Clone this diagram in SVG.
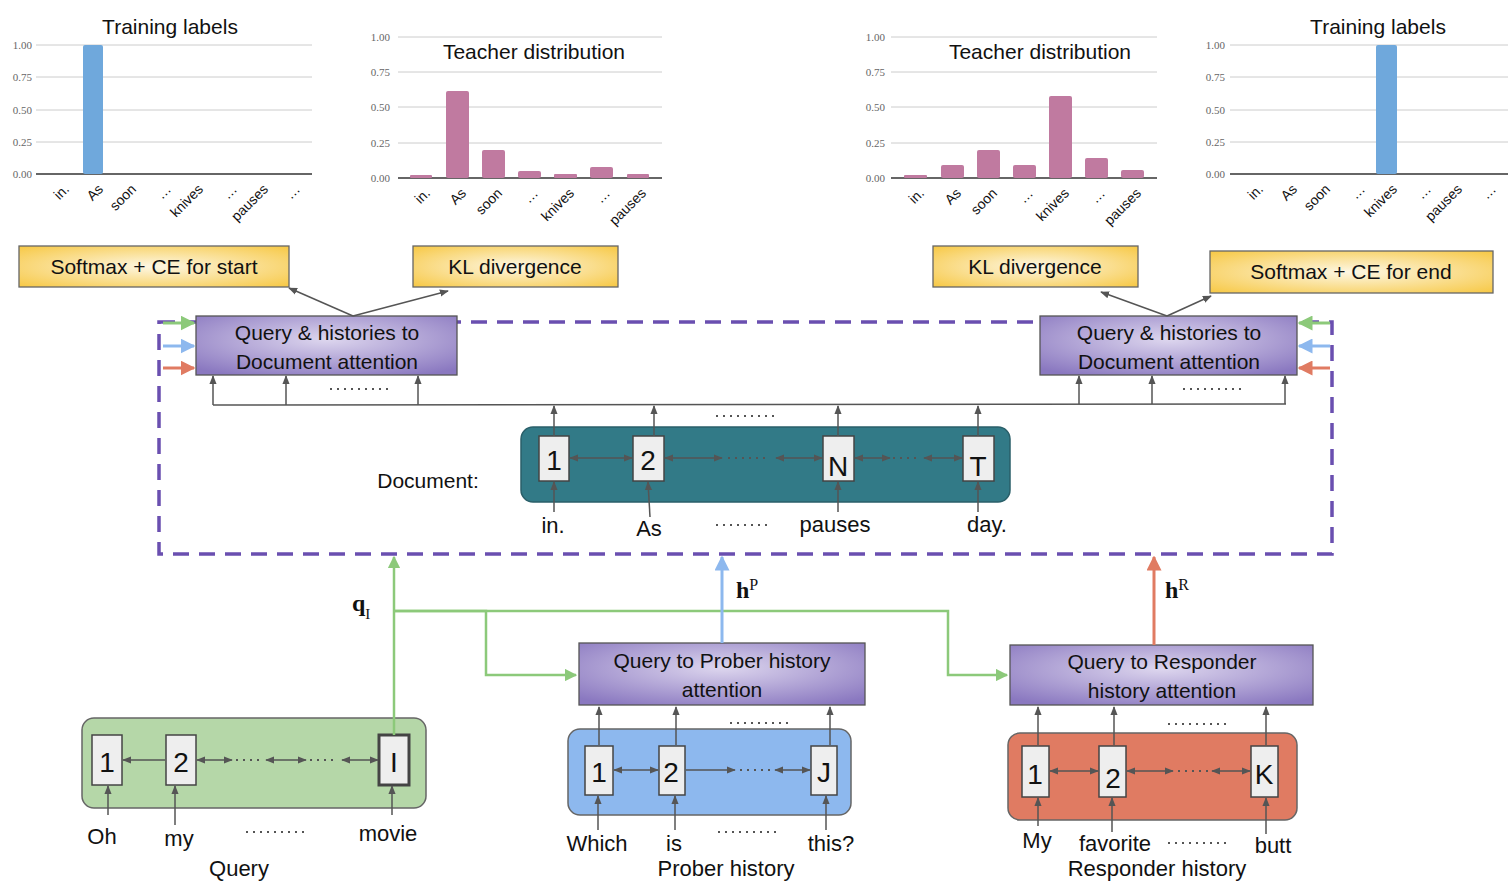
<svg xmlns="http://www.w3.org/2000/svg" width="1512" height="882" viewBox="0 0 1512 882">
<style>
text{font-family:"Liberation Sans",Arial,sans-serif;fill:#111}
.t{font-size:22px}
.m{font-size:21px;text-anchor:middle}
.ax{font-family:"Liberation Serif",serif;font-size:11px;fill:#666;text-anchor:end}
.xl{font-size:14px;fill:#777;text-anchor:end}
.g{stroke:#ccc;stroke-width:1}
.b{stroke:#333;stroke-width:1.3}
.ln{stroke:#555;stroke-width:1.5;fill:none}
.gr{stroke:#8cc97a;stroke-width:2.5;fill:none}
.tok{fill:#eee;stroke:#444;stroke-width:1.5}
.tk{font-size:28px;text-anchor:middle}
.lab{font-size:22px;text-anchor:middle}
.yb{fill:url(#yg);stroke:#666;stroke-width:1.3}
.pb{fill:url(#pg);stroke:#555;stroke-width:1.3}
.dot{stroke:#555;stroke-width:2;stroke-dasharray:2 5}
</style>
<defs>
<radialGradient id="yg" cx="0.5" cy="0.5" r="0.7"><stop offset="0" stop-color="#fdf7e4"/><stop offset="1" stop-color="#f7c844"/></radialGradient>
<radialGradient id="pg" cx="0.5" cy="0.4" r="0.7"><stop offset="0" stop-color="#ddd6ee"/><stop offset="1" stop-color="#8a78c0"/></radialGradient>
<marker id="a" viewBox="0 0 10 10" refX="9" refY="5" markerWidth="6" markerHeight="6" orient="auto-start-reverse"><path d="M0,1 L10,5 L0,9z" fill="#555"/></marker>
<marker id="ag" viewBox="0 0 10 10" refX="9" refY="5" markerWidth="5" markerHeight="5" orient="auto"><path d="M0,0 L10,5 L0,10z" fill="#8cc97a"/></marker>
<marker id="ab" viewBox="0 0 10 10" refX="9" refY="5" markerWidth="5" markerHeight="5" orient="auto"><path d="M0,0 L10,5 L0,10z" fill="#8db8ee"/></marker>
<marker id="ar" viewBox="0 0 10 10" refX="9" refY="5" markerWidth="5" markerHeight="5" orient="auto"><path d="M0,0 L10,5 L0,10z" fill="#e07b62"/></marker>
</defs>

<!-- charts -->
<g id="chart-train-left">
<text x="170" y="34" class="m">Training labels</text>
<g class="g"><line x1="36" y1="45" x2="312" y2="45"/><line x1="36" y1="77" x2="312" y2="77"/><line x1="36" y1="110" x2="312" y2="110"/><line x1="36" y1="142" x2="312" y2="142"/></g>
<line x1="36" y1="174" x2="312" y2="174" class="b"/>
<g><text class="ax" x="32" y="49">1.00</text><text class="ax" x="32" y="81">0.75</text><text class="ax" x="32" y="114">0.50</text><text class="ax" x="32" y="146">0.25</text><text class="ax" x="32" y="178">0.00</text></g>
<rect x="83" y="45" width="20" height="129" rx="2" fill="#6fa8dc"/>
<g class="xl">
<text transform="translate(70,190) rotate(-45)">in.</text><text transform="translate(104,190) rotate(-45)">As</text><text transform="translate(137,190) rotate(-45)">soon</text><text transform="translate(172,190) rotate(-45)">…</text><text transform="translate(204,190) rotate(-45)">knives</text><text transform="translate(238,190) rotate(-45)">…</text><text transform="translate(269,190) rotate(-45)">pauses</text><text transform="translate(301,190) rotate(-45)">…</text>
</g>
</g>

<g id="chart-teacher-left">
<text x="534" y="59" class="m">Teacher distribution</text>
<g class="g"><line x1="398" y1="37" x2="662" y2="37"/><line x1="398" y1="72" x2="662" y2="72"/><line x1="398" y1="107" x2="662" y2="107"/><line x1="398" y1="143" x2="662" y2="143"/></g>
<line x1="398" y1="178" x2="662" y2="178" class="b"/>
<g><text class="ax" x="390" y="41">1.00</text><text class="ax" x="390" y="76">0.75</text><text class="ax" x="390" y="111">0.50</text><text class="ax" x="390" y="147">0.25</text><text class="ax" x="390" y="182">0.00</text></g>
<g fill="#c07aa0">
<rect x="410" y="175" width="22" height="3" rx="1"/><rect x="446" y="91" width="23" height="87" rx="2"/><rect x="482" y="150" width="23" height="28" rx="2"/><rect x="518" y="171" width="23" height="7" rx="2"/><rect x="554" y="174" width="23" height="4" rx="1"/><rect x="590" y="167" width="23" height="11" rx="2"/><rect x="627" y="174" width="22" height="4" rx="1"/>
</g>
<g class="xl">
<text transform="translate(431,194) rotate(-45)">in.</text><text transform="translate(467,194) rotate(-45)">As</text><text transform="translate(503,194) rotate(-45)">soon</text><text transform="translate(539,194) rotate(-45)">…</text><text transform="translate(575,194) rotate(-45)">knives</text><text transform="translate(611,194) rotate(-45)">…</text><text transform="translate(647,194) rotate(-45)">pauses</text>
</g>
</g>

<g id="chart-teacher-right">
<text x="1040" y="59" class="m">Teacher distribution</text>
<g class="g"><line x1="891" y1="37" x2="1157" y2="37"/><line x1="891" y1="72" x2="1157" y2="72"/><line x1="891" y1="107" x2="1157" y2="107"/><line x1="891" y1="143" x2="1157" y2="143"/></g>
<line x1="891" y1="178" x2="1157" y2="178" class="b"/>
<g><text class="ax" x="885" y="41">1.00</text><text class="ax" x="885" y="76">0.75</text><text class="ax" x="885" y="111">0.50</text><text class="ax" x="885" y="147">0.25</text><text class="ax" x="885" y="182">0.00</text></g>
<g fill="#c07aa0">
<rect x="904" y="175" width="23" height="3" rx="1"/><rect x="941" y="165" width="23" height="13" rx="2"/><rect x="977" y="150" width="23" height="28" rx="2"/><rect x="1013" y="165" width="23" height="13" rx="2"/><rect x="1049" y="96" width="23" height="82" rx="2"/><rect x="1085" y="158" width="23" height="20" rx="2"/><rect x="1121" y="170" width="23" height="8" rx="2"/>
</g>
<g class="xl">
<text transform="translate(925,194) rotate(-45)">in.</text><text transform="translate(962,194) rotate(-45)">As</text><text transform="translate(998,194) rotate(-45)">soon</text><text transform="translate(1034,194) rotate(-45)">…</text><text transform="translate(1070,194) rotate(-45)">knives</text><text transform="translate(1106,194) rotate(-45)">…</text><text transform="translate(1142,194) rotate(-45)">pauses</text>
</g>
</g>

<g id="chart-train-right">
<text x="1378" y="34" class="m">Training labels</text>
<g class="g"><line x1="1230" y1="45" x2="1508" y2="45"/><line x1="1230" y1="77" x2="1508" y2="77"/><line x1="1230" y1="110" x2="1508" y2="110"/><line x1="1230" y1="142" x2="1508" y2="142"/></g>
<line x1="1230" y1="174" x2="1508" y2="174" class="b"/>
<g><text class="ax" x="1225" y="49">1.00</text><text class="ax" x="1225" y="81">0.75</text><text class="ax" x="1225" y="114">0.50</text><text class="ax" x="1225" y="146">0.25</text><text class="ax" x="1225" y="178">0.00</text></g>
<rect x="1376" y="45" width="21" height="129" rx="2" fill="#6fa8dc"/>
<g class="xl">
<text transform="translate(1264,190) rotate(-45)">in.</text><text transform="translate(1298,190) rotate(-45)">As</text><text transform="translate(1331,190) rotate(-45)">soon</text><text transform="translate(1366,190) rotate(-45)">…</text><text transform="translate(1398,190) rotate(-45)">knives</text><text transform="translate(1432,190) rotate(-45)">…</text><text transform="translate(1463,190) rotate(-45)">pauses</text><text transform="translate(1497,190) rotate(-45)">…</text>
</g>
</g>

<!-- loss boxes -->
<g id="softmax-start"><rect x="19" y="246" width="270" height="41" class="yb"/><text x="154" y="274" class="m">Softmax + CE for start</text></g>
<g id="kl-left"><rect x="413" y="246" width="205" height="41" class="yb"/><text x="515" y="274" class="m">KL divergence</text></g>
<g id="kl-right"><rect x="933" y="246" width="205" height="41" class="yb"/><text x="1035" y="274" class="m">KL divergence</text></g>
<g id="softmax-end"><rect x="1210" y="251" width="283" height="42" class="yb"/><text x="1351" y="279" class="m">Softmax + CE for end</text></g>

<!-- dashed boundary -->
<rect x="159" y="322" width="1173" height="232" fill="none" stroke="#6a4fb0" stroke-width="3.5" stroke-dasharray="16 10"/>

<g id="att-left"><rect x="196" y="316" width="261" height="59" class="pb"/><text x="327" y="340" class="m">Query &amp; histories to</text><text x="327" y="369" class="m">Document attention</text></g>
<g id="att-right"><rect x="1040" y="316" width="257" height="59" class="pb"/><text x="1169" y="340" class="m">Query &amp; histories to</text><text x="1169" y="369" class="m">Document attention</text></g>

<g id="document">
<text x="428" y="488" class="m">Document:</text>
<rect x="521" y="427" width="489" height="75" rx="12" fill="#327a87" stroke="#2a5f69" stroke-width="1.5"/>
<rect x="539" y="436" width="30" height="45" class="tok"/><text x="554" y="470" class="tk">1</text>
<rect x="633" y="436" width="31" height="45" class="tok"/><text x="648" y="470" class="tk">2</text>
<rect x="823" y="436" width="31" height="45" class="tok"/><text x="838" y="476" class="tk">N</text>
<rect x="963" y="436" width="31" height="45" class="tok"/><text x="978" y="476" class="tk">T</text>
<text x="553" y="533" class="lab">in.</text><text x="649" y="536" class="lab">As</text><text x="835" y="532" class="lab">pauses</text><text x="987" y="532" class="lab">day.</text>
</g>

<g id="query">
<rect x="82" y="718" width="344" height="90" rx="12" fill="#b5d7a8" stroke="#666" stroke-width="1.5"/>
<rect x="92" y="735" width="30" height="50" class="tok"/><text x="107" y="772" class="tk">1</text>
<rect x="166" y="735" width="30" height="50" class="tok"/><text x="181" y="772" class="tk">2</text>
<rect x="379" y="735" width="30" height="50" fill="#eee" stroke="#444" stroke-width="3"/><text x="394" y="772" class="tk">I</text>
<text x="102" y="844" class="lab">Oh</text><text x="179" y="846" class="lab">my</text><text x="388" y="841" class="lab">movie</text><text x="239" y="876" class="lab">Query</text>
</g>

<g id="prober">
<rect x="568" y="729" width="283" height="86" rx="12" fill="#8db8ee" stroke="#666" stroke-width="1.5"/>
<rect x="585" y="746" width="28" height="49" class="tok"/><text x="599" y="782" class="tk">1</text>
<rect x="659" y="746" width="26" height="49" class="tok"/><text x="671" y="782" class="tk">2</text>
<rect x="811" y="746" width="26" height="49" class="tok"/><text x="824" y="782" class="tk">J</text>
<text x="597" y="851" class="lab">Which</text><text x="674" y="851" class="lab">is</text><text x="831" y="851" class="lab">this?</text><text x="726" y="876" class="lab">Prober history</text>
</g>

<g id="responder">
<rect x="1008" y="733" width="289" height="87" rx="12" fill="#e07b62" stroke="#666" stroke-width="1.5"/>
<rect x="1022" y="746" width="27" height="51" class="tok"/><text x="1035" y="784" class="tk">1</text>
<rect x="1099" y="746" width="27" height="51" class="tok"/><text x="1113" y="788" class="tk">2</text>
<rect x="1251" y="746" width="27" height="51" class="tok"/><text x="1264" y="784" class="tk">K</text>
<text x="1037" y="848" class="lab">My</text><text x="1115" y="851" class="lab">favorite</text><text x="1273" y="853" class="lab">butt</text><text x="1157" y="876" class="lab">Responder history</text>
</g>

<g id="att-prober"><rect x="579" y="643" width="286" height="62" class="pb"/><text x="722" y="668" class="m">Query to Prober history</text><text x="722" y="697" class="m">attention</text></g>
<g id="att-responder"><rect x="1010" y="645" width="303" height="60" class="pb"/><text x="1162" y="669" class="m">Query to Responder</text><text x="1162" y="698" class="m">history attention</text></g>

<g id="connectors">
<!-- to loss boxes -->
<line x1="353" y1="316" x2="289" y2="288" class="ln" marker-end="url(#a)"/>
<line x1="353" y1="316" x2="448" y2="291" class="ln" marker-end="url(#a)"/>
<line x1="1167" y1="316" x2="1101" y2="292" class="ln" marker-end="url(#a)"/>
<line x1="1167" y1="316" x2="1211" y2="296" class="ln" marker-end="url(#a)"/>
<!-- doc bus -->
<line x1="213" y1="405" x2="1286" y2="404" class="ln"/>
<line x1="213" y1="405" x2="213" y2="376" class="ln" marker-end="url(#a)"/>
<line x1="286" y1="405" x2="286" y2="376" class="ln" marker-end="url(#a)"/>
<line x1="418" y1="405" x2="418" y2="376" class="ln" marker-end="url(#a)"/>
<line x1="1079" y1="404" x2="1079" y2="376" class="ln" marker-end="url(#a)"/>
<line x1="1152" y1="404" x2="1152" y2="376" class="ln" marker-end="url(#a)"/>
<line x1="1285" y1="404" x2="1285" y2="376" class="ln" marker-end="url(#a)"/>
<line x1="330" y1="389" x2="390" y2="389" class="dot"/>
<line x1="1183" y1="389" x2="1243" y2="389" class="dot"/>
<line x1="716" y1="416" x2="776" y2="416" class="dot"/>
<line x1="554" y1="436" x2="554" y2="406" class="ln" marker-end="url(#a)"/>
<line x1="654" y1="436" x2="654" y2="406" class="ln" marker-end="url(#a)"/>
<line x1="838" y1="436" x2="838" y2="406" class="ln" marker-end="url(#a)"/>
<line x1="978" y1="436" x2="978" y2="406" class="ln" marker-end="url(#a)"/>
<!-- doc chain -->
<line x1="570" y1="458" x2="632" y2="458" class="ln" marker-start="url(#a)" marker-end="url(#a)"/>
<line x1="665" y1="458" x2="722" y2="458" class="ln" marker-start="url(#a)" marker-end="url(#a)"/>
<line x1="728" y1="458" x2="768" y2="458" class="dot"/>
<line x1="776" y1="458" x2="822" y2="458" class="ln" marker-start="url(#a)" marker-end="url(#a)"/>
<line x1="855" y1="458" x2="890" y2="458" class="ln" marker-start="url(#a)" marker-end="url(#a)"/>
<line x1="893" y1="458" x2="920" y2="458" class="dot"/>
<line x1="924" y1="458" x2="962" y2="458" class="ln" marker-start="url(#a)" marker-end="url(#a)"/>
<line x1="554" y1="512" x2="554" y2="482" class="ln" marker-end="url(#a)"/>
<line x1="650" y1="517" x2="648" y2="482" class="ln" marker-end="url(#a)"/>
<line x1="838" y1="512" x2="838" y2="482" class="ln" marker-end="url(#a)"/>
<line x1="978" y1="512" x2="978" y2="482" class="ln" marker-end="url(#a)"/>
<line x1="716" y1="525" x2="770" y2="525" class="dot"/>
<!-- side inputs -->
<line x1="163" y1="323" x2="194" y2="323" stroke="#8cc97a" stroke-width="3" marker-end="url(#ag)"/>
<line x1="163" y1="346" x2="194" y2="346" stroke="#8db8ee" stroke-width="3" marker-end="url(#ab)"/>
<line x1="163" y1="368" x2="194" y2="368" stroke="#e07b62" stroke-width="3" marker-end="url(#ar)"/>
<line x1="1330" y1="323" x2="1299" y2="323" stroke="#8cc97a" stroke-width="3" marker-end="url(#ag)"/>
<line x1="1330" y1="346" x2="1299" y2="346" stroke="#8db8ee" stroke-width="3" marker-end="url(#ab)"/>
<line x1="1330" y1="368" x2="1299" y2="368" stroke="#e07b62" stroke-width="3" marker-end="url(#ar)"/>
<!-- query flows -->
<line x1="394" y1="735" x2="394" y2="557" stroke="#8cc97a" stroke-width="2.5" marker-end="url(#ag)"/>
<polyline points="394,611 486,611 486,675 576,675" class="gr" marker-end="url(#ag)"/>
<polyline points="394,611 948,611 948,675 1007,675" class="gr" marker-end="url(#ag)"/>
<line x1="722" y1="643" x2="722" y2="557" stroke="#8db8ee" stroke-width="3" marker-end="url(#ab)"/>
<line x1="1154" y1="645" x2="1154" y2="557" stroke="#e07b62" stroke-width="3" marker-end="url(#ar)"/>
<!-- query chain -->
<line x1="165" y1="760" x2="123" y2="760" class="ln" marker-end="url(#a)"/>
<line x1="197" y1="760" x2="232" y2="760" class="ln" marker-start="url(#a)" marker-end="url(#a)"/>
<line x1="236" y1="760" x2="262" y2="760" class="dot"/>
<line x1="266" y1="760" x2="306" y2="760" class="ln" marker-start="url(#a)" marker-end="url(#a)"/>
<line x1="310" y1="760" x2="336" y2="760" class="dot"/>
<line x1="342" y1="760" x2="378" y2="760" class="ln" marker-start="url(#a)" marker-end="url(#a)"/>
<line x1="108" y1="815" x2="108" y2="786" class="ln" marker-end="url(#a)"/>
<line x1="175" y1="825" x2="175" y2="786" class="ln" marker-end="url(#a)"/>
<line x1="392" y1="815" x2="392" y2="786" class="ln" marker-end="url(#a)"/>
<line x1="246" y1="832" x2="306" y2="832" class="dot"/>
<!-- prober chain -->
<line x1="614" y1="770" x2="658" y2="770" class="ln" marker-start="url(#a)" marker-end="url(#a)"/>
<line x1="686" y1="770" x2="735" y2="770" class="ln" marker-end="url(#a)"/>
<line x1="740" y1="770" x2="770" y2="770" class="dot"/>
<line x1="775" y1="770" x2="810" y2="770" class="ln" marker-start="url(#a)" marker-end="url(#a)"/>
<line x1="598" y1="830" x2="598" y2="796" class="ln" marker-end="url(#a)"/>
<line x1="675" y1="830" x2="675" y2="796" class="ln" marker-end="url(#a)"/>
<line x1="826" y1="830" x2="826" y2="796" class="ln" marker-end="url(#a)"/>
<line x1="718" y1="832" x2="776" y2="832" class="dot"/>
<line x1="599" y1="745" x2="599" y2="707" class="ln" marker-end="url(#a)"/>
<line x1="676" y1="745" x2="676" y2="707" class="ln" marker-end="url(#a)"/>
<line x1="830" y1="745" x2="830" y2="707" class="ln" marker-end="url(#a)"/>
<line x1="730" y1="723" x2="788" y2="723" class="dot"/>
<!-- responder chain -->
<line x1="1050" y1="771" x2="1098" y2="771" class="ln" marker-start="url(#a)" marker-end="url(#a)"/>
<line x1="1127" y1="771" x2="1173" y2="771" class="ln" marker-start="url(#a)" marker-end="url(#a)"/>
<line x1="1178" y1="771" x2="1208" y2="771" class="dot"/>
<line x1="1212" y1="771" x2="1250" y2="771" class="ln" marker-start="url(#a)" marker-end="url(#a)"/>
<line x1="1038" y1="826" x2="1038" y2="798" class="ln" marker-end="url(#a)"/>
<line x1="1112" y1="832" x2="1112" y2="798" class="ln" marker-end="url(#a)"/>
<line x1="1266" y1="834" x2="1266" y2="798" class="ln" marker-end="url(#a)"/>
<line x1="1168" y1="843" x2="1226" y2="843" class="dot"/>
<line x1="1038" y1="745" x2="1038" y2="707" class="ln" marker-end="url(#a)"/>
<line x1="1114" y1="745" x2="1114" y2="707" class="ln" marker-end="url(#a)"/>
<line x1="1266" y1="745" x2="1266" y2="707" class="ln" marker-end="url(#a)"/>
<line x1="1168" y1="724" x2="1226" y2="724" class="dot"/>
</g>

<g id="labels">
<text x="352" y="611" font-family="Liberation Serif,serif" font-weight="bold" font-size="24" style="font-family:'Liberation Serif',serif">q<tspan font-size="15" font-weight="normal" dy="8">I</tspan></text>
<text x="736" y="598" font-weight="bold" font-size="24" style="font-family:'Liberation Serif',serif">h<tspan font-size="16" font-weight="normal" dy="-8">P</tspan></text>
<text x="1165" y="598" font-weight="bold" font-size="24" style="font-family:'Liberation Serif',serif">h<tspan font-size="16" font-weight="normal" dy="-8">R</tspan></text>
</g>
</svg>
